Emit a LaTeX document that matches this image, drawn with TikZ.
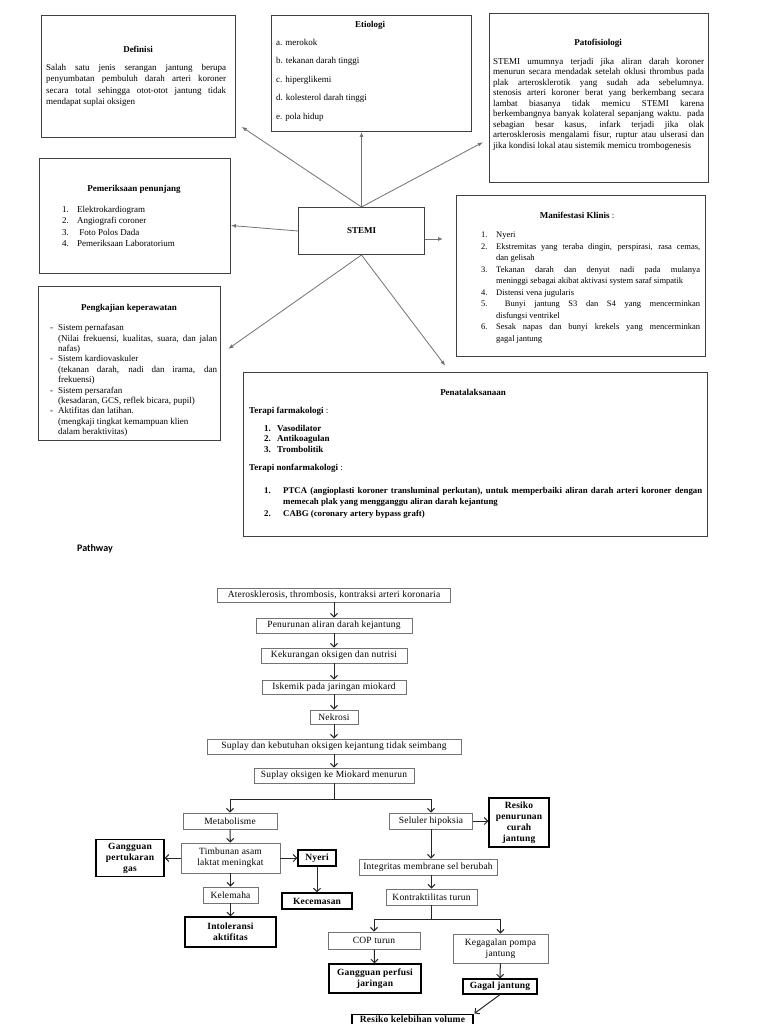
\documentclass[tikz,border=0pt]{standalone}
\usepackage{fontspec}
\setmainfont{Liberation Serif}
\newfontfamily\pathfont[LetterSpace=2]{Liberation Serif}
\newfontfamily\calfont{Carlito}
\usetikzlibrary{arrows.meta}

\newcommand\boxtxt{\fontsize{9}{10.5}\selectfont}
\newcommand\flowtxt{\pathfont\fontsize{9.5}{11}\selectfont}
\newcommand\numrow[3]{\par\hangindent=#1\hangafter=1\noindent\makebox[#1][l]{#2}#3}

\begin{document}
\begin{tikzpicture}[x=1pt,y=-1pt,
  frame/.style={draw=black!75,line width=1pt,anchor=north west,inner sep=0pt},
  ttl/.style={font=\boxtxt\bfseries,inner sep=0pt},
  body/.style={font=\boxtxt,inner sep=0pt,anchor=north west},
  spoke/.style={draw=black!55,line width=.8pt,-{Latex[length=5pt,width=4pt]}},
  pbox/.style={draw=black!55,line width=.8pt,font=\flowtxt,inner sep=0pt,align=center},
  pboxb/.style={pbox,draw=black,line width=1.2pt,font=\flowtxt\bfseries},
  link/.style={draw=black!85,line width=1pt},
  flow/.style={link,-{Straight Barb[length=3.5pt,width=7pt]}}]
\useasboundingbox (0,0) rectangle (768,1024);
\clip (0,0) rectangle (768,1024);
\fill[white] (0,0) rectangle (768,1024);

\node[frame,minimum width=194pt,minimum height=122pt] (def) at (41,15) {};
\node[ttl] (defttl) at (138,49) {Definisi};
\node[body,text width=180pt,align=justify,font=\fontsize{9}{11.3}\selectfont] (deftxt) at (46,64) {Salah satu jenis serangan jantung berupa\linebreak penyumbatan pembuluh darah arteri koroner\linebreak secara total sehingga otot-otot jantung tidak\linebreak mendapat suplai oksigen};

\node[frame,minimum width=200pt,minimum height=116pt] (eti) at (271,15) {};
\node[ttl] (etittl) at (370,25) {Etiologi};
\node[body,align=left] (etitxt) at (276,39) {a. merokok\\[8pt]b. tekanan darah tinggi\\[8pt]c. hiperglikemi\\[8pt]d. kolesterol darah tinggi\\[8pt]e. pola hidup};

\node[frame,minimum width=219pt,minimum height=169pt] (pat) at (489,13) {};
\node[ttl] (patttl) at (598,43) {Patofisiologi};
\node[body,text width=211pt,align=justify] (pattxt) at (493,58) {STEMI umumnya terjadi jika aliran darah koroner\linebreak menurun secara mendadak setelah oklusi thrombus pada\linebreak plak arterosklerotik yang sudah ada sebelumnya.\linebreak stenosis arteri koroner berat yang berkembang secara\linebreak lambat biasanya tidak memicu STEMI karena\linebreak berkembangnya banyak kolateral sepanjang waktu. pada\linebreak sebagian besar kasus, infark terjadi jika olak\linebreak arterosklerosis mengalami fisur, ruptur atau ulserasi dan\linebreak jika kondisi lokal atau sistemik memicu trombogenesis};

\node[frame,minimum width=191pt,minimum height=115pt] (pem) at (39,158) {};
\node[ttl] (pemttl) at (134,189) {Pemeriksaan penunjang};
\node[body,align=left,font=\fontsize{9}{11.3}\selectfont] (pemtxt) at (62,206) {\makebox[15pt][l]{1.}Elektrokardiogram\\\makebox[15pt][l]{2.}Angiografi coroner\\\makebox[15pt][l]{3.}\ Foto Polos Dada\\\makebox[15pt][l]{4.}Pemeriksaan Laboratorium};

\node[frame,minimum width=126pt,minimum height=47pt] (stemi) at (298,207) {};
\node[ttl] (stemittl) at (stemi.center) {STEMI};

\node[frame,minimum width=249pt,minimum height=161pt] (man) at (456,195) {};
\node[ttl] (manttl) at (577,215) {Manifestasi Klinis {\mdseries:}};
\node[body,text width=219pt,align=justify,font=\fontsize{8.5}{11.5}\selectfont] (mantxt) at (481,226) {\hyphenpenalty=10000\numrow{15pt}{1.}{Nyeri}
\numrow{15pt}{2.}{Ekstremitas yang teraba dingin, perspirasi, rasa cemas,\linebreak dan gelisah}
\numrow{15pt}{3.}{Tekanan darah dan denyut nadi pada mulanya\linebreak meninggi sebagai akibat aktivasi system saraf simpatik}
\numrow{15pt}{4.}{Distensi vena jugularis}
\numrow{15pt}{5.}{\ Bunyi jantung S3 dan S4 yang mencerminkan\linebreak disfungsi ventrikel}
\numrow{15pt}{6.}{Sesak napas dan bunyi krekels yang mencerminkan\linebreak gagal jantung}\par};

\node[frame,minimum width=182pt,minimum height=154pt] (peng) at (38,286) {};
\node[ttl] (pengttl) at (129,308) {Pengkajian keperawatan};
\node[body,text width=167pt,align=justify,font=\fontsize{9}{10.4}\selectfont] (pengtxt) at (50,320) {\numrow{8pt}{-}{Sistem pernafasan\newline(Nilai frekuensi, kualitas, suara, dan jalan\linebreak nafas)}
\numrow{8pt}{-}{Sistem kardiovaskuler\newline(tekanan darah, nadi dan irama, dan\linebreak frekuensi)}
\numrow{8pt}{-}{Sistem persarafan\newline(kesadaran, GCS, reflek bicara, pupil)}
\numrow{8pt}{-}{Aktifitas dan latihan.\newline(mengkaji tingkat kemampuan klien\newline dalam beraktivitas)}\par};

\node[frame,minimum width=464pt,minimum height=164pt] (pen) at (243,372) {};
\node[ttl] (penttl) at (473,392) {Penatalaksanaan};
\node[body,font=\boxtxt\bfseries] (penfar) at (249,407) {Terapi farmakologi {\mdseries:}};
\node[body,align=left,font=\boxtxt\bfseries] (penfarlist) at (264,425) {\makebox[13pt][l]{1.}Vasodilator\\\makebox[13pt][l]{2.}Antikoagulan\\\makebox[13pt][l]{3.}Trombolitik};
\node[body,font=\boxtxt\bfseries] (pennon) at (249,464) {Terapi nonfarmakologi {\mdseries:}};
\node[body,text width=438pt,align=justify,font=\fontsize{8.8}{10.5}\selectfont\bfseries] (pennonlist) at (264,483) {\numrow{19pt}{1.}{PTCA (angioplasti koroner transluminal perkutan), untuk memperbaiki aliran darah arteri koroner dengan\linebreak memecah plak yang mengganggu aliran darah kejantung}
\par\vspace{2pt}
\numrow{19pt}{2.}{CABG (coronary artery bypass graft)}\par};

\draw[spoke,shorten >=7pt] (stemi.north) -- ([yshift=15pt]def.south east);
\draw[spoke] (stemi.north) -- (stemi.north |- eti.south);
\draw[spoke,shorten >=7pt] (stemi.north) -- ([yshift=44pt]pat.south west);
\draw[spoke] (stemi.west) -- ([yshift=-9.5pt]pem.east);
\draw[spoke,shorten >=13pt] ([yshift=-8pt]stemi.east) -- ([yshift=-8pt]stemi.east -| man.west);
\draw[spoke,shorten >=9pt] (stemi.south) -- ([yshift=-68pt]peng.north east);
\draw[spoke,shorten >=8pt] (stemi.south) -- ([xshift=207pt]pen.north west);

\node[anchor=west,inner sep=0pt,font=\calfont\bfseries\fontsize{10}{12}\selectfont] (pwlabel) at (77,549) {Pathway};

\node[pbox,minimum width=233pt,minimum height=14pt] (ater) at (334,595) {Aterosklerosis, thrombosis, kontraksi arteri koronaria};
\node[pbox,minimum width=156pt,minimum height=15pt] (aliran) at (334,625.5) {Penurunan aliran darah kejantung};
\node[pbox,minimum width=146pt,minimum height=15pt] (kurang) at (334,655.5) {Kekurangan oksigen dan nutrisi};
\node[pbox,minimum width=144pt,minimum height=14pt] (iskemik) at (334,687) {Iskemik pada jaringan miokard};
\node[pbox,minimum width=48pt,minimum height=14pt] (nekrosi) at (334,717) {Nekrosi};
\node[pbox,minimum width=254pt,minimum height=15pt] (suplay) at (334,746.5) {Suplay dan kebutuhan oksigen kejantung tidak seimbang};
\node[pbox,minimum width=160pt,minimum height=15pt] (menurun) at (334,775.5) {Suplay oksigen ke Miokard menurun};
\coordinate (split) at (334,799);

\node[pbox,minimum width=94pt,minimum height=16pt] (meta) at (230,821) {Metabolisme};
\node[pbox,minimum width=99pt,minimum height=30pt] (timbun) at (230.5,858) {Timbunan asam\\laktat meningkat};
\node[pboxb,minimum width=68pt,minimum height=37pt] (gastuk) at (130,858) {Gangguan\\pertukaran\\gas};
\node[pboxb,minimum width=38pt,minimum height=16pt] (nyeri) at (317,858) {Nyeri};
\node[pbox,minimum width=55pt,minimum height=16pt] (lemah) at (230.5,895) {Kelemaha};
\node[pboxb,minimum width=91pt,minimum height=30pt] (intol) at (230.5,932) {Intoleransi\\aktifitas};
\node[pboxb,minimum width=70pt,minimum height=16pt] (cemas) at (317,901) {Kecemasan};

\node[pbox,minimum width=83pt,minimum height=16pt] (seluler) at (431,821) {Seluler hipoksia};
\node[pboxb,minimum width=60pt,minimum height=49pt] (curah) at (519,822.5) {Resiko\\penurunan\\curah\\jantung};
\node[pbox,minimum width=138pt,minimum height=16pt] (integ) at (428,867) {Integritas membrane sel berubah};
\node[pbox,minimum width=91pt,minimum height=16pt] (kontrak) at (431.5,897) {Kontraktilitas turun};
\coordinate (cabang) at (431.5,919);
\node[pbox,minimum width=92pt,minimum height=17pt] (cop) at (374,940.5) {COP turun};
\node[pbox,minimum width=95pt,minimum height=29pt] (gagal) at (500.5,948.5) {Kegagalan pompa\\jantung};
\node[pboxb,minimum width=92pt,minimum height=29pt] (perfusi) at (375,978.5) {Gangguan perfusi\\jaringan};
\node[pboxb,minimum width=74pt,minimum height=15pt] (gagaljtg) at (500,986.5) {Gagal jantung};
\node[pboxb,minimum width=121pt,anchor=north,inner ysep=1.5pt,text height=6.5pt,text depth=30pt] (volume) at (412.5,1014) {Resiko kelebihan volume};

\draw[flow] (ater) -- (aliran);
\draw[flow] (aliran) -- (kurang);
\draw[flow] (kurang) -- (iskemik);
\draw[flow] (iskemik) -- (nekrosi);
\draw[flow] (nekrosi) -- (suplay);
\draw[flow] (suplay) -- (menurun);
\draw[link] (menurun) -- (split);
\draw[flow] (split) -| (meta);
\draw[flow] (split) -| (seluler);

\draw[flow] (meta) -- (timbun);
\draw[flow] (timbun) -- (gastuk);
\draw[flow] (timbun) -- (nyeri);
\draw[flow] (timbun) -- (lemah);
\draw[flow] (lemah) -- (intol);
\draw[flow] (nyeri) -- (cemas);

\draw[flow] (seluler.east) -- (seluler.east -| curah.west);
\draw[flow] (seluler.south) -- (seluler.south |- integ.north);
\draw[flow] (integ.south -| kontrak) -- (kontrak);
\draw[link] (kontrak) -- (cabang);
\draw[flow] (cabang) -| (cop);
\draw[flow] (cabang) -| (gagal);
\draw[flow] (cop) -- (perfusi);
\draw[flow] (gagal) -- (gagaljtg);
\draw[flow,shorten >=1pt] (gagaljtg.south) -- (volume.north east);

\end{tikzpicture}
\end{document}
